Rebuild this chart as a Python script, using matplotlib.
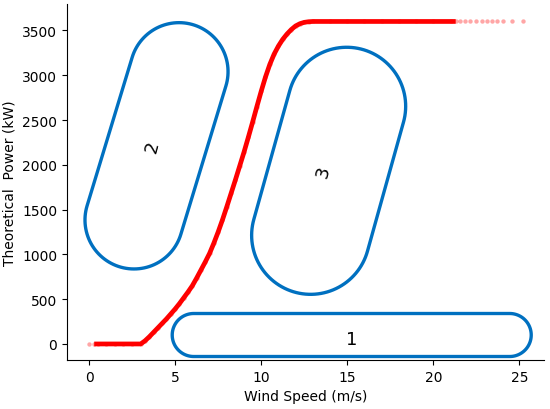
import numpy as np
import matplotlib.pyplot as plt
import matplotlib.transforms as mtransforms
from matplotlib.patches import Polygon

# theoretical power curve
wind_speed = [0.0, 0.3, 0.5, 1.0, 1.5, 2.0, 2.5, 3.0,
              3.25, 3.5, 3.75, 4.0, 4.25, 4.5, 4.75, 5.0, 5.25, 5.5, 5.75,
              6.0, 6.25, 6.5, 6.75, 7.0, 7.25, 7.5, 7.75, 8.0, 8.25, 8.5, 8.75,
              9.0, 9.25, 9.5, 9.75, 10.0, 10.25, 10.5, 10.75, 11.0, 11.25,
              11.5, 11.75, 12.0, 12.25, 12.5, 12.75, 13.0,
              14.0, 15.0, 16.0, 17.0, 18.0, 19.0, 20.0, 21.0, 21.3]
power_kw = [0, 0, 0, 0, 0, 0, 0, 0,
            35, 80, 130, 180, 230, 280, 335, 390, 450, 515, 580,
            650, 735, 825, 915, 1010, 1125, 1250, 1385, 1530, 1680, 1830, 1985,
            2140, 2305, 2475, 2650, 2820, 2980, 3120, 3235, 3325, 3400,
            3460, 3510, 3550, 3575, 3590, 3597, 3600,
            3600, 3600, 3600, 3600, 3600, 3600, 3600, 3600, 3600]

# sparse points at high wind speed
tail_speed = [21.57, 21.86, 22.15, 22.5, 22.85, 23.14, 23.43, 23.72, 24.07, 24.6, 25.23]
tail_power = [3600] * len(tail_speed)

# marked regions: label, centre (m/s, kW), length/width in px, angle, text pos, text angle
regions = [
    ("1", (15.26, 100), 359, 43, 0, (15.28, 56), 0),
    ("2", (3.92, 2212), 253, 98, 73.1, (3.67, 2212), 75),
    ("3", (13.92, 1933), 252, 118, 74.4, (13.62, 1933), 75),
]

RED = "#ff0000"
BLUE = "#0070c0"


def stadium(length, width):
    """Outline of a pill shape centred at 0, in inches"""
    r = width / 2
    d = length / 2 - r
    t = np.linspace(-np.pi / 2, np.pi / 2, 60)
    right = np.column_stack([d + r * np.cos(t), r * np.sin(t)])
    left = np.column_stack([-d - r * np.cos(t), -r * np.sin(t)])
    return np.vstack([right, left])


fig = plt.figure(figsize=(5.5, 4.1), dpi=100)
ax = fig.add_axes([67 / 550, 49 / 410, 477 / 550, 356 / 410])

ax.plot(wind_speed[1:], power_kw[1:], color=RED, lw=3.4, solid_capstyle="butt", zorder=2)
ax.scatter(wind_speed, power_kw, s=10, color=RED, alpha=0.35, lw=0, zorder=2)
ax.scatter(tail_speed, tail_power, s=10, color=RED, alpha=0.35, lw=0, zorder=2)

ax.set_xlim(-1.28, 26.43)
ax.set_ylim(-179, 3795)
ax.set_xticks([0, 5, 10, 15, 20, 25])
ax.set_yticks(np.arange(0, 3501, 500))
ax.tick_params(labelsize=10)
ax.spines["top"].set_visible(False)
ax.spines["right"].set_visible(False)
ax.set_xlabel("Wind Speed (m/s)", fontsize=10, labelpad=4)
ax.set_ylabel("Theoretical  Power (kW)", fontsize=10, labelpad=4)

for label, centre, length, width, angle, text_pos, text_rot in regions:
    shape = Polygon(stadium(length / 100, width / 100), closed=True, fill=False,
                    edgecolor=BLUE, lw=2.4, zorder=3, joinstyle="round")
    trans = (mtransforms.Affine2D().rotate_deg(angle) + fig.dpi_scale_trans
             + mtransforms.ScaledTranslation(centre[0], centre[1], ax.transData))
    shape.set_transform(trans)
    shape.set_clip_on(False)
    ax.add_patch(shape)
    ax.text(text_pos[0], text_pos[1], label, fontsize=13, rotation=text_rot,
            ha="center", va="center", zorder=4)

fig.savefig("out.png", dpi=100)
